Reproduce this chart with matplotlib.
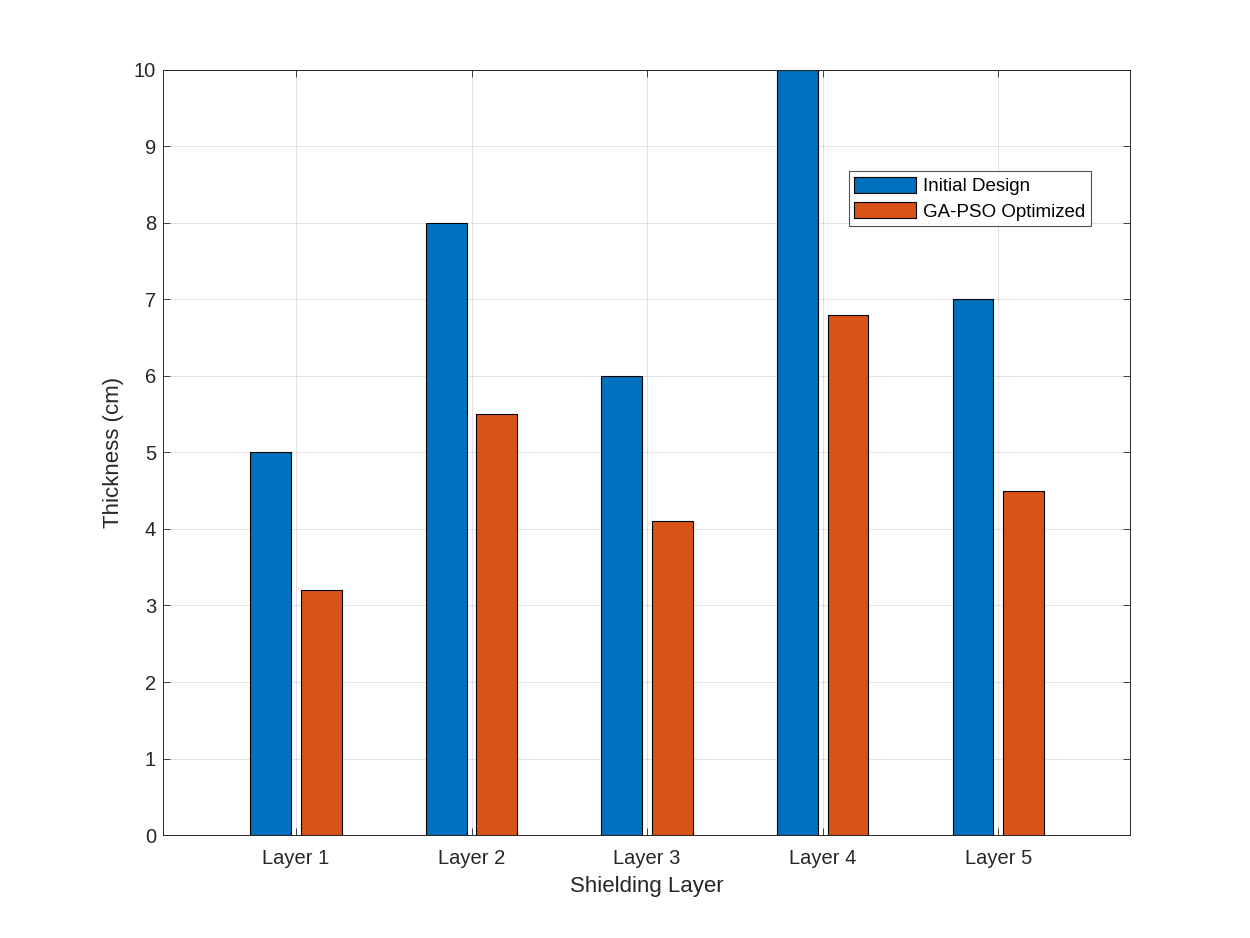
import numpy as np
import matplotlib.pyplot as plt

plt.rcParams['font.family'] = ['Liberation Sans', 'DejaVu Sans']

layers = ['Layer 1', 'Layer 2', 'Layer 3', 'Layer 4', 'Layer 5']
initial = [5, 8, 6, 10, 7]
optimized = [3.2, 5.5, 4.1, 6.8, 4.5]

x = np.arange(1, len(layers) + 1)
w = 0.233
off = 0.144

fig = plt.figure(figsize=(12.5, 9.38), dpi=100)
ax = fig.add_axes([0.1304, 0.1098, 0.7736, 0.8156])

ax.bar(x - off, initial, w, color='#0072BD', edgecolor='black', linewidth=0.8,
       label='Initial Design', zorder=3)
ax.bar(x + off, optimized, w, color='#D95319', edgecolor='black', linewidth=0.8,
       label='GA-PSO Optimized', zorder=3)

ax.set_xlim(0.243, 5.75)
ax.set_ylim(0, 10)
ax.set_xticks(x)
ax.set_xticklabels(layers)
ax.set_yticks(np.arange(0, 11, 1))

ax.grid(True, color='#262626', alpha=0.15, linewidth=0.6, zorder=0)
ax.tick_params(direction='in', length=5, width=0.6, top=True, right=True,
               labelsize=14.5, colors='#262626', pad=5)
ax.tick_params(axis='x', pad=10)
for s in ax.spines.values():
    s.set_color('#262626')
    s.set_linewidth(0.7)
    s.set_zorder(4)

ax.set_xlabel('Shielding Layer', fontsize=16, color='#262626', labelpad=6)
ax.set_ylabel('Thickness (cm)', fontsize=16, color='#262626', labelpad=7)

leg = ax.legend(loc='upper left', bbox_to_anchor=(0.709, 0.8675), fontsize=13.5,
                frameon=True, fancybox=False, borderpad=0.3, labelspacing=0.35,
                handlelength=3.3, handleheight=0.95, handletextpad=0.35, borderaxespad=0)
leg.get_frame().set_edgecolor('#262626')
leg.get_frame().set_linewidth(0.8)

fig.savefig('out.png', dpi=100)
